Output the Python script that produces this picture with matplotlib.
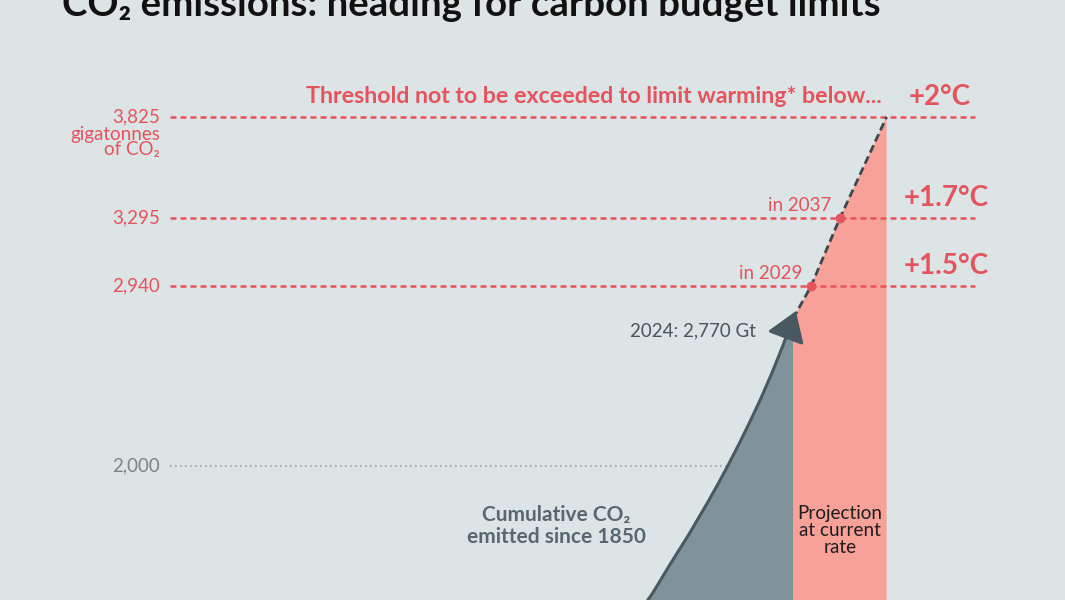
import matplotlib
matplotlib.use("Agg")
import matplotlib.pyplot as plt
import matplotlib.transforms as mtransforms

# ---------------- data ----------------
hist_years = [1980, 1985, 1990, 1995, 2000, 2003, 2006, 2009, 2012, 2015, 2018, 2021, 2024]
hist_values = [1200, 1335, 1490, 1640, 1800, 1900, 2005, 2115, 2230, 2350, 2480, 2620, 2770]
proj_years = [2024, 2029, 2037, 2050]
proj_values = [2770, 2940, 3295, 3825]
thresholds = [3825, 3295, 2940]
threshold_ticks = ["3,825", "3,295", "2,940"]
threshold_labels = ["+2°C", "+1.7°C", "+1.5°C"]
crossing_years = [2029, 2037]
crossing_values = [2940, 3295]
crossing_labels = ["in 2029", "in 2037"]
ref_value = 2000
ref_tick = "2,000"
last_label = "2024: 2,770 Gt"

# ---------------- style ----------------
BG = "#dce4e6"
RED = "#e5535c"
PINK = "#f8a199"
GREY_FILL = "#80939b"
GREY_LINE = "#4a5961"
DARK = "#3d474d"
FONT = ["Lato", "DejaVu Sans"]
plt.rcParams["font.family"] = FONT

W, H = 1065, 600
fig = plt.figure(figsize=(W / 100, H / 100), dpi=100)
fig.patch.set_facecolor(BG)
ax = fig.add_axes([0, 0, 1, 1])
ax.set_facecolor(BG)
ax.set_xlim(1803.72, 2099.56)
ax.set_ylim(1299.4, 4436.8)
ax.axis("off")

trans = mtransforms.blended_transform_factory(ax.transAxes, ax.transData)
x0, x1 = 170 / W, 975 / W

# reference dotted line (2,000)
ax.plot([x0, 887 / W], [ref_value, ref_value], transform=trans, color="#9aa3a7",
        lw=1.2, ls=(0, (1, 2)), zorder=1)
ax.text(160 / W, ref_value, ref_tick, transform=trans, ha="right", va="center",
        fontsize=13.5, color="#7d8285")

# historical cumulative emissions
ax.fill_between(hist_years, hist_values, 0, color=GREY_FILL, lw=0, zorder=2)
ax.plot(hist_years[:-1], hist_values[:-1], color=GREY_LINE, lw=2.2, zorder=4,
        solid_capstyle="butt", solid_joinstyle="round")
ax.annotate("", xy=(hist_years[-1] + 0.8, hist_values[-1] + 40),
            xytext=(hist_years[-2], hist_values[-2]),
            arrowprops=dict(arrowstyle="-|>,head_length=0.9,head_width=0.6",
                            color=GREY_LINE, lw=2.2, mutation_scale=20,
                            shrinkA=0, shrinkB=0), zorder=6)

# projection
ax.fill_between(proj_years, proj_values, 0, color=PINK, lw=0, zorder=2)
ax.plot(proj_years, proj_values, color=DARK, lw=2, ls=(0, (2.9, 1.5)), zorder=5)

# thresholds
label_x = [909 / W, 904 / W, 904 / W]
for val, tick, lab, lx in zip(thresholds, threshold_ticks, threshold_labels, label_x):
    ax.plot([x0, x1], [val, val], transform=trans, color=RED, lw=1.8,
            ls=(0, (2.4, 1.6)), zorder=3)
    ax.text(160 / W, val, tick, transform=trans, ha="right", va="center",
            fontsize=13.5, color=RED)
    ax.annotate(lab, xy=(lx, val), xycoords=trans, xytext=(0, 14.5),
                textcoords="offset points", ha="left", va="center",
                fontsize=20, fontweight="bold", color=RED)

ax.annotate("gigatonnes\nof CO₂", xy=(160 / W, thresholds[0]), xycoords=trans,
            xytext=(0, -6.5), textcoords="offset points", ha="right", va="top",
            fontsize=13.5, color=RED, linespacing=0.84)

ax.annotate("Threshold not to be exceeded to limit warming* below...",
            xy=(882 / W, thresholds[0]), xycoords=trans, xytext=(0, 14.5),
            textcoords="offset points", ha="right", va="center",
            fontsize=16.7, fontweight="bold", color=RED)

# crossing points
ax.scatter(crossing_years, crossing_values, s=50, color=RED, zorder=7, lw=0)
for yr, val, lab in zip(crossing_years, crossing_values, crossing_labels):
    ax.annotate(lab, xy=(yr, val), xytext=(-6, 9.5), textcoords="offset points",
                ha="right", va="center", fontsize=13.5, color=RED)

ax.annotate(last_label, xy=(hist_years[-1], hist_values[-1]), xytext=(-27, -9),
            textcoords="offset points", ha="right", va="center", fontsize=13.5,
            color="#4a555b")

# labels
ax.text(556 / W, 1686, "Cumulative CO₂\nemitted since 1850", ha="center",
        va="center", transform=trans, fontsize=15, fontweight="bold",
        color="#59676e", linespacing=1.1)
ax.text(840 / W, 1665, "Projection\nat current\nrate", ha="center", va="center",
        transform=trans, fontsize=13.6, color="#1e1e1e", linespacing=1.0)

# title (cut at top in the original)
fig.text(62 / W, 1 - 16 / H, "CO₂ emissions: heading for carbon budget limits",
         ha="left", va="baseline", fontsize=27.6, fontweight="bold", color="#111111")

fig.savefig("out.png", dpi=100, facecolor=BG)
